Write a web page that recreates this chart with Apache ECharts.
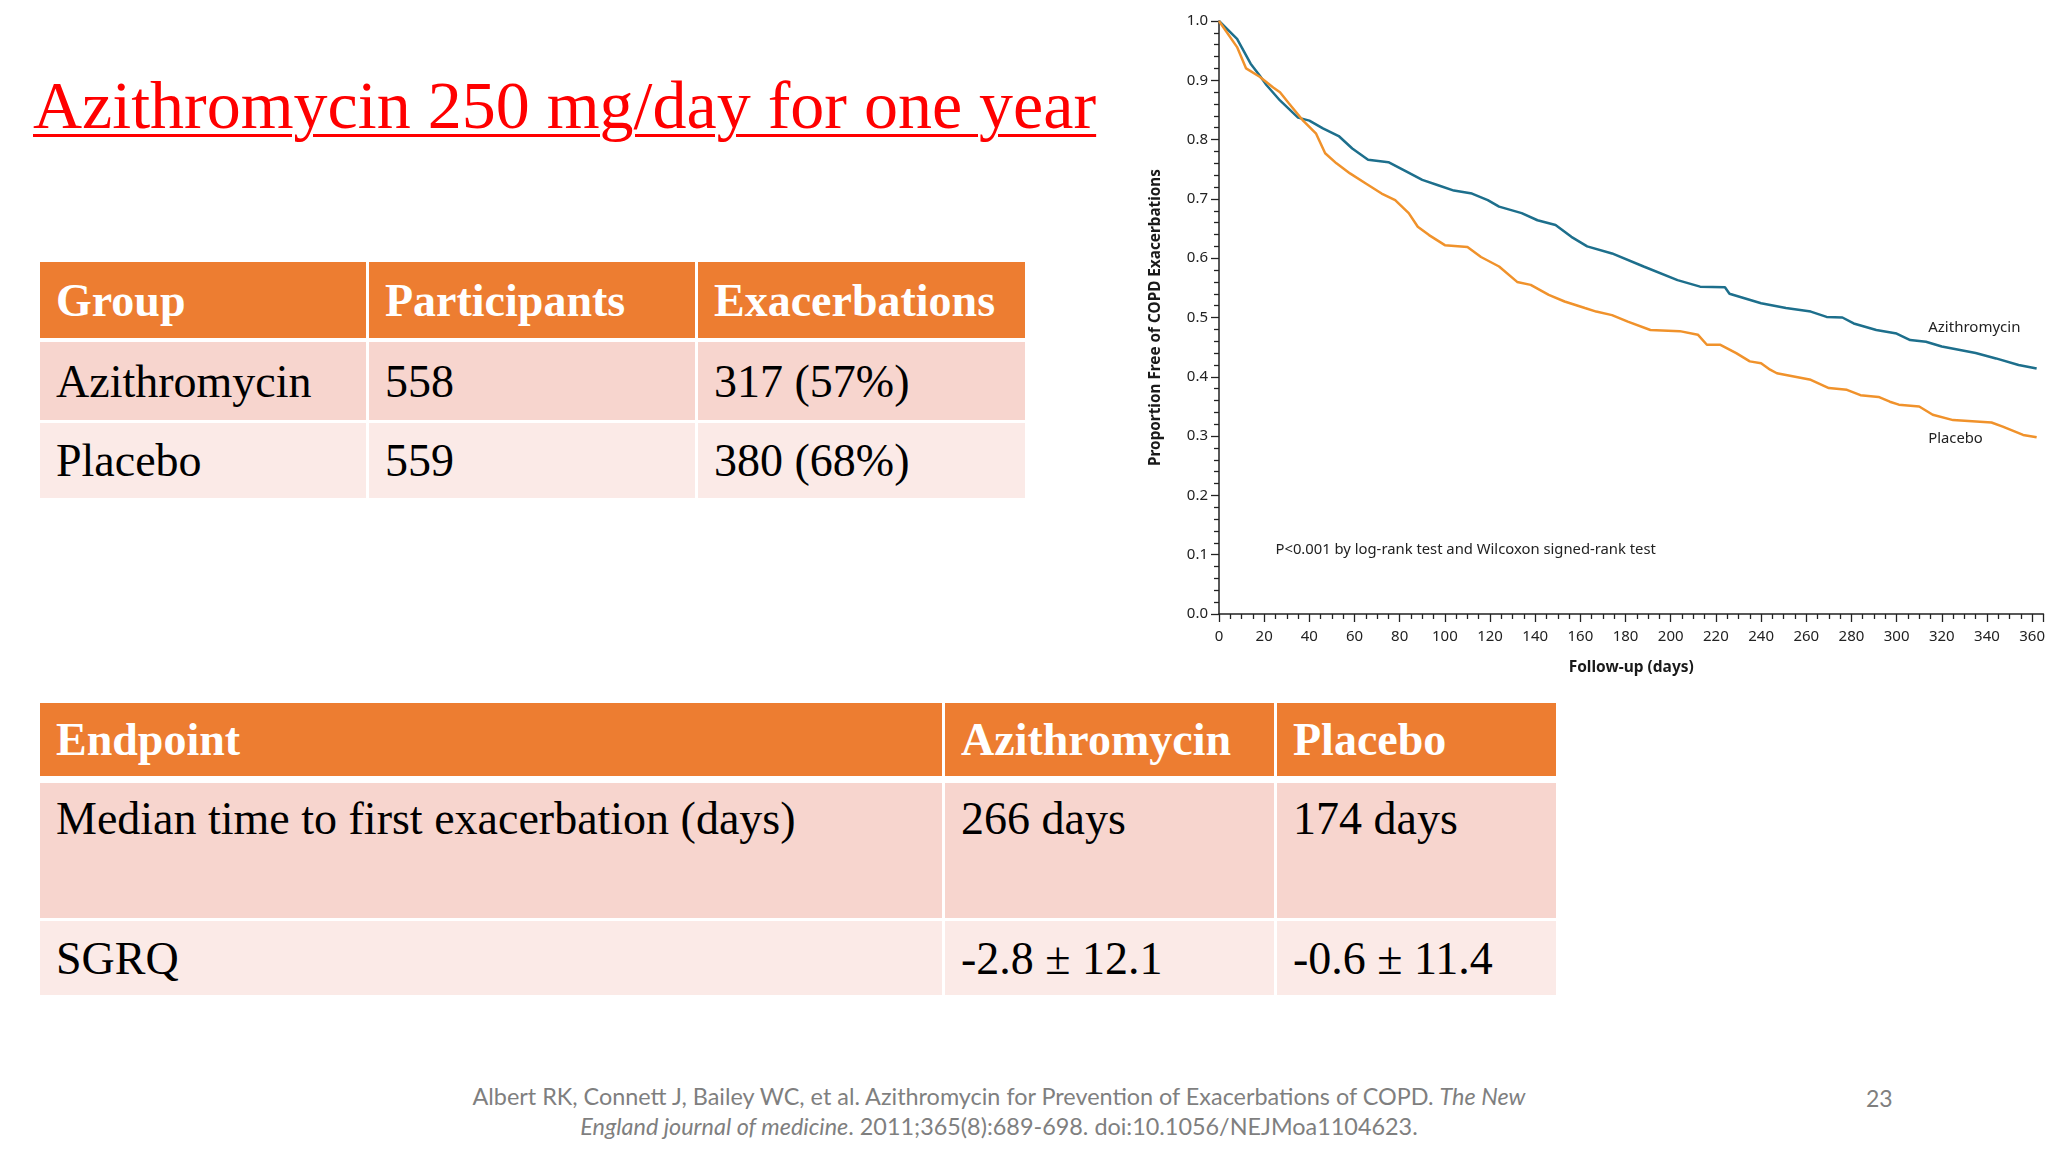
<!DOCTYPE html>
<html>
<head>
<meta charset="utf-8">
<script src="https://cdn.jsdelivr.net/npm/echarts@6/dist/echarts.min.js"></script>
<style>
  html, body { margin: 0; padding: 0; background: #fff; }
  body { width: 2048px; height: 1152px; position: relative; overflow: hidden; }
  #title {
    position: absolute; left: 33px; top: 71px;
    font-family: "Liberation Serif", serif; font-size: 68px; line-height: 68px;
    color: #ff0000; text-decoration: underline; text-decoration-thickness: 3px;
    text-underline-offset: 6px; white-space: nowrap;
  }
  .cell {
    position: absolute; box-sizing: border-box; padding-left: 16px;
    font-family: "Liberation Serif", serif; font-size: 46px; color: #000;
    display: flex; align-items: center; white-space: nowrap;
  }
  .head { background: #ed7d31; color: #fff; font-weight: bold; }
  .band1 { background: #f7d5ce; }
  .band2 { background: #fbeae7; }
  .top { align-items: flex-start; padding-top: 8px; line-height: 56px; }
  #chart { position: absolute; left: 1100px; top: 0; width: 948px; height: 700px; }
  #cite {
    position: absolute; left: 0; top: 1081px; width: 1998px; text-align: center;
    font-family: Lato, sans-serif; font-size: 23.4px; line-height: 30px; color: #7f7f7f;
  }
  #page {
    position: absolute; left: 1866px; top: 1083px;
    font-family: Lato, sans-serif; font-size: 23px; line-height: 30px; color: #7f7f7f;
  }
</style>
</head>
<body>
<div id="title">Azithromycin 250 mg/day for one year</div>
<div id="tables"></div>
<div id="chart"></div>
<div id="cite">Albert RK, Connett J, Bailey WC, et al. Azithromycin for Prevention of Exacerbations of COPD. <i>The New<br>England journal of medicine</i>. 2011;365(8):689-698. doi:10.1056/NEJMoa1104623.</div>
<div id="page">23</div>
<script>
// table contents
var t1Header = ["Group", "Participants", "Exacerbations"];
var t1Rows = [["Azithromycin", "558", "317 (57%)"], ["Placebo", "559", "380 (68%)"]];
var t2Header = ["Endpoint", "Azithromycin", "Placebo"];
var t2Rows = [["Median time to first exacerbation (days)", "266 days", "174 days"], ["SGRQ", "-2.8 \u00b1 12.1", "-0.6 \u00b1 11.4"]];

// Kaplan-Meier curves (days, proportion free)
var aziDays = [0, 8, 14, 18, 21, 27, 35, 40, 46, 53, 59, 66, 75, 82, 90, 97, 104, 112, 119, 124, 134, 141, 149, 156, 163, 174, 188, 203, 213, 224, 226, 240, 251, 262, 269, 276, 281, 291, 300, 306, 313, 320, 335, 344, 354, 362];
var aziSurv = [1.0, 0.970, 0.928, 0.908, 0.892, 0.866, 0.837, 0.832, 0.819, 0.806, 0.785, 0.766, 0.762, 0.748, 0.732, 0.723, 0.714, 0.709, 0.698, 0.687, 0.676, 0.664, 0.656, 0.636, 0.620, 0.608, 0.586, 0.563, 0.552, 0.551, 0.540, 0.524, 0.516, 0.510, 0.501, 0.500, 0.490, 0.479, 0.473, 0.462, 0.459, 0.451, 0.440, 0.431, 0.420, 0.414];
var plcDays = [0, 8, 12, 18, 24, 27, 31, 37, 43, 47, 52, 58, 65, 72, 78, 84, 88, 93, 100, 110, 116, 124, 132, 138, 146, 153, 162, 167, 174, 181, 191, 204, 212, 216, 222, 229, 235, 240, 244, 247, 262, 270, 278, 284, 292, 297, 301, 310, 316, 325, 342, 347, 356, 362];
var plcSurv = [1.0, 0.956, 0.920, 0.906, 0.888, 0.880, 0.861, 0.833, 0.810, 0.777, 0.760, 0.743, 0.726, 0.709, 0.698, 0.676, 0.653, 0.639, 0.622, 0.619, 0.602, 0.586, 0.560, 0.555, 0.538, 0.527, 0.516, 0.510, 0.504, 0.493, 0.479, 0.477, 0.471, 0.454, 0.454, 0.440, 0.426, 0.423, 0.412, 0.406, 0.395, 0.381, 0.378, 0.369, 0.366, 0.358, 0.353, 0.350, 0.336, 0.327, 0.323, 0.316, 0.302, 0.298];

// where the in-plot texts sit, in data units
var aziLabelAt = [314, 0.482];
var plcLabelAt = [314, 0.295];
var pNoteAt = [25, 0.108];

function makeTable(header, rows, left, cols, rowTops, rowHeights, topRows) {
  var box = document.getElementById("tables");
  var all = [header].concat(rows);
  for (var r = 0; r < all.length; r++) {
    var x = left;
    for (var c = 0; c < cols.length; c++) {
      var d = document.createElement("div");
      d.className = "cell " + (r == 0 ? "head" : (r == 1 ? "band1" : "band2"));
      if (topRows.indexOf(r) >= 0) d.className += " top";
      d.style.left = x + "px";
      d.style.top = rowTops[r] + "px";
      d.style.width = (cols[c] - 3) + "px";
      d.style.height = rowHeights[r] + "px";
      d.textContent = all[r][c];
      box.appendChild(d);
      x += cols[c];
    }
  }
}
makeTable(t1Header, t1Rows, 40, [329, 329, 330], [262, 342, 423], [76, 78, 75], []);
makeTable(t2Header, t2Rows, 40, [905, 332, 282], [703, 783, 921], [73, 135, 74], [1]);

function pairs(xs, ys) {
  var out = [];
  for (var i = 0; i < xs.length; i++) out.push([xs[i], ys[i]]);
  return out;
}

var myChart = echarts.init(document.getElementById("chart"));
var font = "Noto Sans";
var option = {
  animation: false,
  textStyle: { fontFamily: font },
  grid: { left: 119, top: 21, right: 0, bottom: 86 },
  xAxis: {
    type: "value", min: 0, max: 365, interval: 20,
    name: "Follow-up (days)", nameLocation: "middle", nameGap: 46,
    nameTextStyle: { fontFamily: font, fontSize: 15.5, fontWeight: "bold", color: "#1a1a1a" },
    axisLine: { lineStyle: { color: "#222", width: 1.5 } },
    axisTick: { length: 8, lineStyle: { color: "#222", width: 1.3 } },
    minorTick: { show: true, splitNumber: 4, length: 5, lineStyle: { color: "#222", width: 1.3 } },
    axisLabel: { fontFamily: font, fontSize: 15, color: "#222", margin: 15, showMaxLabel: false },
    splitLine: { show: false }
  },
  yAxis: {
    type: "value", min: 0, max: 1, interval: 0.1,
    name: "Proportion Free of COPD Exacerbations", nameLocation: "middle", nameGap: 56, nameRotate: 90,
    nameTextStyle: { fontFamily: font, fontSize: 15.3, fontWeight: "bold", color: "#1a1a1a" },
    axisLine: { show: true, lineStyle: { color: "#222", width: 1.5 } },
    axisTick: { show: true, length: 8, lineStyle: { color: "#222", width: 1.3 } },
    minorTick: { show: true, splitNumber: 5, length: 5, lineStyle: { color: "#222", width: 1.3 } },
    axisLabel: { fontFamily: font, fontSize: 15, color: "#222", margin: 11, formatter: function(v) { return v.toFixed(1); } },
    splitLine: { show: false }
  },
  series: [
    {
      name: "Azithromycin", type: "line", showSymbol: false, symbol: "none",
      data: pairs(aziDays, aziSurv),
      lineStyle: { color: "#1d6f8c", width: 2.5 },
      markPoint: {
        symbol: "circle", symbolSize: 0,
        label: { show: true, position: "right", distance: 0, formatter: "Azithromycin", fontSize: 15, color: "#222", fontFamily: font },
        data: [{ coord: aziLabelAt }]
      }
    },
    {
      name: "Placebo", type: "line", showSymbol: false, symbol: "none",
      data: pairs(plcDays, plcSurv),
      lineStyle: { color: "#f0922b", width: 2.5 },
      markPoint: {
        symbol: "circle", symbolSize: 0,
        label: { show: true, position: "right", distance: 0, fontSize: 14.8, color: "#222", fontFamily: font,
          formatter: function(p) { return p.name; } },
        data: [
          { name: "Placebo", coord: plcLabelAt },
          { name: "P<0.001 by log-rank test and Wilcoxon signed-rank test", coord: pNoteAt }
        ]
      }
    }
  ]
};
myChart.setOption(option);
</script>
</body>
</html>
